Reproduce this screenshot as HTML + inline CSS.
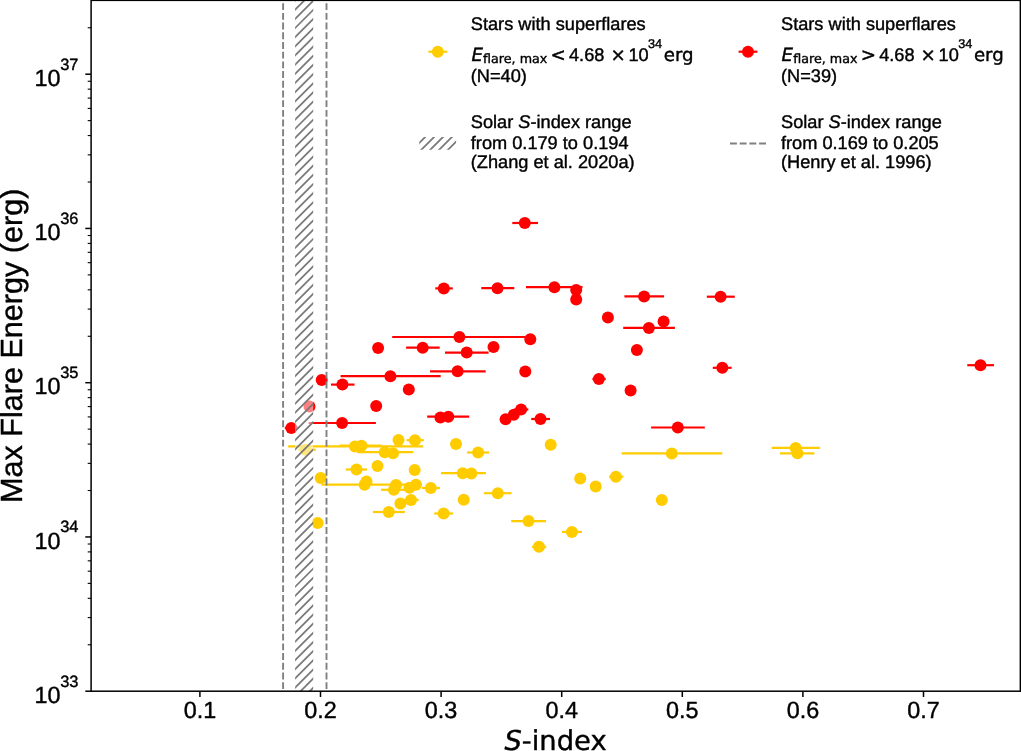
<!DOCTYPE html>
<html lang="en"><head><meta charset="utf-8"><title>Max Flare Energy vs S-index</title>
<style>html,body{margin:0;padding:0;background:#fff}svg{display:block}</style></head>
<body>
<svg width="1021" height="751" viewBox="0 0 1021 751" font-family="'Liberation Sans', sans-serif" text-rendering="geometricPrecision" fill="#000">
<style>text{stroke:#000;stroke-width:0.4px;stroke-linejoin:round}</style>
<rect width="1021" height="751" fill="#fff"/>
<defs><clipPath id="band"><rect x="295.1" y="0.7" width="18.1" height="690.5"/></clipPath><clipPath id="lp"><rect x="419.3" y="137" width="36.8" height="12.8"/></clipPath></defs>
<g stroke="#ffcc00" stroke-width="2.2" fill="#ffcc00">
<line x1="298.2" y1="449.7" x2="315.7" y2="449.7"/>
<line x1="288.1" y1="446.4" x2="423.2" y2="446.4"/>
<line x1="339.5" y1="445.7" x2="381.5" y2="445.7"/>
<line x1="357.1" y1="452.2" x2="413.2" y2="452.2"/>
<line x1="406.5" y1="440.2" x2="423.8" y2="440.2"/>
<line x1="467.1" y1="452.5" x2="489.0" y2="452.5"/>
<line x1="345.8" y1="469.5" x2="367.1" y2="469.5"/>
<line x1="321.4" y1="484.7" x2="408.0" y2="484.7"/>
<line x1="381.0" y1="489.8" x2="406.8" y2="489.8"/>
<line x1="373.0" y1="512.0" x2="404.8" y2="512.0"/>
<line x1="441.0" y1="473.2" x2="485.9" y2="473.2"/>
<line x1="422.0" y1="488.0" x2="439.9" y2="488.0"/>
<line x1="403.4" y1="499.9" x2="418.6" y2="499.9"/>
<line x1="434.2" y1="513.5" x2="453.1" y2="513.5"/>
<line x1="484.1" y1="493.2" x2="511.5" y2="493.2"/>
<line x1="621.6" y1="453.4" x2="722.3" y2="453.4"/>
<line x1="609.1" y1="476.7" x2="623.4" y2="476.7"/>
<line x1="511.2" y1="521.1" x2="546.0" y2="521.1"/>
<line x1="561.9" y1="531.9" x2="581.9" y2="531.9"/>
<line x1="532.0" y1="546.8" x2="546.2" y2="546.8"/>
<line x1="771.7" y1="447.9" x2="819.9" y2="447.9"/>
<line x1="780.0" y1="453.3" x2="814.4" y2="453.3"/>
<circle cx="305.7" cy="449.7" r="6.0" stroke="none"/>
<circle cx="355.0" cy="446.4" r="6.0" stroke="none"/>
<circle cx="361.5" cy="445.7" r="6.0" stroke="none"/>
<circle cx="398.5" cy="439.9" r="6.0" stroke="none"/>
<circle cx="384.7" cy="452.2" r="6.0" stroke="none"/>
<circle cx="393.0" cy="453.3" r="6.0" stroke="none"/>
<circle cx="415.0" cy="440.2" r="6.0" stroke="none"/>
<circle cx="456.0" cy="444.0" r="6.0" stroke="none"/>
<circle cx="478.1" cy="452.5" r="6.0" stroke="none"/>
<circle cx="356.5" cy="469.5" r="6.0" stroke="none"/>
<circle cx="377.5" cy="466.0" r="6.0" stroke="none"/>
<circle cx="320.7" cy="477.9" r="6.0" stroke="none"/>
<circle cx="366.5" cy="481.4" r="6.0" stroke="none"/>
<circle cx="364.6" cy="484.7" r="6.0" stroke="none"/>
<circle cx="396.0" cy="485.1" r="6.0" stroke="none"/>
<circle cx="393.9" cy="489.8" r="6.0" stroke="none"/>
<circle cx="409.5" cy="487.8" r="6.0" stroke="none"/>
<circle cx="400.4" cy="503.6" r="6.0" stroke="none"/>
<circle cx="416.0" cy="484.7" r="6.0" stroke="none"/>
<circle cx="388.8" cy="512.0" r="6.0" stroke="none"/>
<circle cx="317.7" cy="523.1" r="6.0" stroke="none"/>
<circle cx="414.7" cy="470.0" r="6.0" stroke="none"/>
<circle cx="462.7" cy="473.2" r="6.0" stroke="none"/>
<circle cx="471.3" cy="473.4" r="6.0" stroke="none"/>
<circle cx="430.8" cy="488.0" r="6.0" stroke="none"/>
<circle cx="411.0" cy="499.9" r="6.0" stroke="none"/>
<circle cx="443.6" cy="513.5" r="6.0" stroke="none"/>
<circle cx="463.7" cy="499.7" r="6.0" stroke="none"/>
<circle cx="497.8" cy="493.2" r="6.0" stroke="none"/>
<circle cx="550.7" cy="444.7" r="6.0" stroke="none"/>
<circle cx="671.8" cy="453.4" r="6.0" stroke="none"/>
<circle cx="580.2" cy="478.4" r="6.0" stroke="none"/>
<circle cx="595.7" cy="486.6" r="6.0" stroke="none"/>
<circle cx="615.9" cy="476.7" r="6.0" stroke="none"/>
<circle cx="661.8" cy="499.9" r="6.0" stroke="none"/>
<circle cx="528.5" cy="521.1" r="6.0" stroke="none"/>
<circle cx="571.9" cy="531.9" r="6.0" stroke="none"/>
<circle cx="539.0" cy="546.8" r="6.0" stroke="none"/>
<circle cx="795.7" cy="447.9" r="6.0" stroke="none"/>
<circle cx="797.5" cy="453.3" r="6.0" stroke="none"/>
</g>
<g stroke="#ff0000" stroke-width="2.2" fill="#ff0000">
<line x1="512.3" y1="223.0" x2="538.0" y2="223.0"/>
<line x1="435.3" y1="288.4" x2="452.8" y2="288.4"/>
<line x1="481.3" y1="288.2" x2="514.3" y2="288.2"/>
<line x1="526.0" y1="287.2" x2="582.5" y2="287.2"/>
<line x1="392.2" y1="337.0" x2="525.5" y2="337.0"/>
<line x1="406.1" y1="347.7" x2="439.7" y2="347.7"/>
<line x1="445.0" y1="352.6" x2="488.6" y2="352.6"/>
<line x1="430.0" y1="371.3" x2="485.7" y2="371.3"/>
<line x1="340.6" y1="376.2" x2="440.7" y2="376.2"/>
<line x1="331.0" y1="384.6" x2="354.5" y2="384.6"/>
<line x1="624.4" y1="296.4" x2="664.1" y2="296.4"/>
<line x1="706.8" y1="296.7" x2="734.8" y2="296.7"/>
<line x1="623.2" y1="327.9" x2="674.9" y2="327.9"/>
<line x1="712.8" y1="367.8" x2="731.6" y2="367.8"/>
<line x1="592.4" y1="379.0" x2="605.7" y2="379.0"/>
<line x1="308.6" y1="423.0" x2="375.9" y2="423.0"/>
<line x1="284.8" y1="427.9" x2="298.6" y2="427.9"/>
<line x1="427.2" y1="416.7" x2="469.2" y2="416.7"/>
<line x1="514.0" y1="409.5" x2="528.3" y2="409.5"/>
<line x1="531.2" y1="419.0" x2="550.0" y2="419.0"/>
<line x1="651.1" y1="427.5" x2="704.8" y2="427.5"/>
<line x1="967.3" y1="365.2" x2="994.0" y2="365.2"/>
<circle cx="524.8" cy="223.0" r="6.0" stroke="none"/>
<circle cx="443.8" cy="288.4" r="6.0" stroke="none"/>
<circle cx="497.5" cy="288.2" r="6.0" stroke="none"/>
<circle cx="554.4" cy="287.2" r="6.0" stroke="none"/>
<circle cx="576.2" cy="289.9" r="6.0" stroke="none"/>
<circle cx="576.2" cy="299.4" r="6.0" stroke="none"/>
<circle cx="459.4" cy="337.0" r="6.0" stroke="none"/>
<circle cx="530.3" cy="339.3" r="6.0" stroke="none"/>
<circle cx="378.1" cy="348.0" r="6.0" stroke="none"/>
<circle cx="422.7" cy="347.7" r="6.0" stroke="none"/>
<circle cx="466.7" cy="352.6" r="6.0" stroke="none"/>
<circle cx="493.5" cy="347.0" r="6.0" stroke="none"/>
<circle cx="457.6" cy="371.3" r="6.0" stroke="none"/>
<circle cx="525.3" cy="371.6" r="6.0" stroke="none"/>
<circle cx="390.4" cy="376.2" r="6.0" stroke="none"/>
<circle cx="321.7" cy="379.9" r="6.0" stroke="none"/>
<circle cx="342.4" cy="384.6" r="6.0" stroke="none"/>
<circle cx="408.8" cy="389.5" r="6.0" stroke="none"/>
<circle cx="644.1" cy="296.4" r="6.0" stroke="none"/>
<circle cx="720.6" cy="296.7" r="6.0" stroke="none"/>
<circle cx="607.9" cy="317.6" r="6.0" stroke="none"/>
<circle cx="663.6" cy="321.6" r="6.0" stroke="none"/>
<circle cx="648.9" cy="327.9" r="6.0" stroke="none"/>
<circle cx="636.9" cy="350.1" r="6.0" stroke="none"/>
<circle cx="722.3" cy="367.8" r="6.0" stroke="none"/>
<circle cx="598.9" cy="379.0" r="6.0" stroke="none"/>
<circle cx="630.6" cy="390.5" r="6.0" stroke="none"/>
<circle cx="309.5" cy="406.6" r="6.0" stroke="none"/>
<circle cx="376.2" cy="406.1" r="6.0" stroke="none"/>
<circle cx="342.1" cy="423.0" r="6.0" stroke="none"/>
<circle cx="291.3" cy="427.9" r="6.0" stroke="none"/>
<circle cx="440.4" cy="417.6" r="6.0" stroke="none"/>
<circle cx="448.3" cy="416.7" r="6.0" stroke="none"/>
<circle cx="505.6" cy="419.3" r="6.0" stroke="none"/>
<circle cx="513.8" cy="414.7" r="6.0" stroke="none"/>
<circle cx="521.1" cy="409.5" r="6.0" stroke="none"/>
<circle cx="540.5" cy="419.0" r="6.0" stroke="none"/>
<circle cx="677.8" cy="427.5" r="6.0" stroke="none"/>
<circle cx="980.5" cy="365.2" r="6.0" stroke="none"/>
</g>
<rect x="295.1" y="0.7" width="18.1" height="690.5" fill="#fff" fill-opacity="0.5"/>
<g clip-path="url(#band)" stroke="#787878" stroke-width="1.75">
<line x1="293" y1="-15.68" x2="316" y2="-38.68"/>
<line x1="293" y1="-6.52" x2="316" y2="-29.52"/>
<line x1="293" y1="2.64" x2="316" y2="-20.36"/>
<line x1="293" y1="11.80" x2="316" y2="-11.20"/>
<line x1="293" y1="20.96" x2="316" y2="-2.04"/>
<line x1="293" y1="30.12" x2="316" y2="7.12"/>
<line x1="293" y1="39.28" x2="316" y2="16.28"/>
<line x1="293" y1="48.44" x2="316" y2="25.44"/>
<line x1="293" y1="57.60" x2="316" y2="34.60"/>
<line x1="293" y1="66.76" x2="316" y2="43.76"/>
<line x1="293" y1="75.92" x2="316" y2="52.92"/>
<line x1="293" y1="85.08" x2="316" y2="62.08"/>
<line x1="293" y1="94.24" x2="316" y2="71.24"/>
<line x1="293" y1="103.40" x2="316" y2="80.40"/>
<line x1="293" y1="112.56" x2="316" y2="89.56"/>
<line x1="293" y1="121.72" x2="316" y2="98.72"/>
<line x1="293" y1="130.88" x2="316" y2="107.88"/>
<line x1="293" y1="140.04" x2="316" y2="117.04"/>
<line x1="293" y1="149.20" x2="316" y2="126.20"/>
<line x1="293" y1="158.36" x2="316" y2="135.36"/>
<line x1="293" y1="167.52" x2="316" y2="144.52"/>
<line x1="293" y1="176.68" x2="316" y2="153.68"/>
<line x1="293" y1="185.84" x2="316" y2="162.84"/>
<line x1="293" y1="195.00" x2="316" y2="172.00"/>
<line x1="293" y1="204.16" x2="316" y2="181.16"/>
<line x1="293" y1="213.32" x2="316" y2="190.32"/>
<line x1="293" y1="222.48" x2="316" y2="199.48"/>
<line x1="293" y1="231.64" x2="316" y2="208.64"/>
<line x1="293" y1="240.80" x2="316" y2="217.80"/>
<line x1="293" y1="249.96" x2="316" y2="226.96"/>
<line x1="293" y1="259.12" x2="316" y2="236.12"/>
<line x1="293" y1="268.28" x2="316" y2="245.28"/>
<line x1="293" y1="277.44" x2="316" y2="254.44"/>
<line x1="293" y1="286.60" x2="316" y2="263.60"/>
<line x1="293" y1="295.76" x2="316" y2="272.76"/>
<line x1="293" y1="304.92" x2="316" y2="281.92"/>
<line x1="293" y1="314.08" x2="316" y2="291.08"/>
<line x1="293" y1="323.24" x2="316" y2="300.24"/>
<line x1="293" y1="332.40" x2="316" y2="309.40"/>
<line x1="293" y1="341.56" x2="316" y2="318.56"/>
<line x1="293" y1="350.72" x2="316" y2="327.72"/>
<line x1="293" y1="359.88" x2="316" y2="336.88"/>
<line x1="293" y1="369.04" x2="316" y2="346.04"/>
<line x1="293" y1="378.20" x2="316" y2="355.20"/>
<line x1="293" y1="387.36" x2="316" y2="364.36"/>
<line x1="293" y1="396.52" x2="316" y2="373.52"/>
<line x1="293" y1="405.68" x2="316" y2="382.68"/>
<line x1="293" y1="414.84" x2="316" y2="391.84"/>
<line x1="293" y1="424.00" x2="316" y2="401.00"/>
<line x1="293" y1="433.16" x2="316" y2="410.16"/>
<line x1="293" y1="442.32" x2="316" y2="419.32"/>
<line x1="293" y1="451.48" x2="316" y2="428.48"/>
<line x1="293" y1="460.64" x2="316" y2="437.64"/>
<line x1="293" y1="469.80" x2="316" y2="446.80"/>
<line x1="293" y1="478.96" x2="316" y2="455.96"/>
<line x1="293" y1="488.12" x2="316" y2="465.12"/>
<line x1="293" y1="497.28" x2="316" y2="474.28"/>
<line x1="293" y1="506.44" x2="316" y2="483.44"/>
<line x1="293" y1="515.60" x2="316" y2="492.60"/>
<line x1="293" y1="524.76" x2="316" y2="501.76"/>
<line x1="293" y1="533.92" x2="316" y2="510.92"/>
<line x1="293" y1="543.08" x2="316" y2="520.08"/>
<line x1="293" y1="552.24" x2="316" y2="529.24"/>
<line x1="293" y1="561.40" x2="316" y2="538.40"/>
<line x1="293" y1="570.56" x2="316" y2="547.56"/>
<line x1="293" y1="579.72" x2="316" y2="556.72"/>
<line x1="293" y1="588.88" x2="316" y2="565.88"/>
<line x1="293" y1="598.04" x2="316" y2="575.04"/>
<line x1="293" y1="607.20" x2="316" y2="584.20"/>
<line x1="293" y1="616.36" x2="316" y2="593.36"/>
<line x1="293" y1="625.52" x2="316" y2="602.52"/>
<line x1="293" y1="634.68" x2="316" y2="611.68"/>
<line x1="293" y1="643.84" x2="316" y2="620.84"/>
<line x1="293" y1="653.00" x2="316" y2="630.00"/>
<line x1="293" y1="662.16" x2="316" y2="639.16"/>
<line x1="293" y1="671.32" x2="316" y2="648.32"/>
<line x1="293" y1="680.48" x2="316" y2="657.48"/>
<line x1="293" y1="689.64" x2="316" y2="666.64"/>
<line x1="293" y1="698.80" x2="316" y2="675.80"/>
<line x1="293" y1="707.96" x2="316" y2="684.96"/>
</g>
<line x1="283.1" y1="689.1" x2="283.1" y2="0" stroke="#808080" stroke-width="1.9" stroke-dasharray="6.9 2.8"/>
<line x1="326.5" y1="689.1" x2="326.5" y2="0" stroke="#808080" stroke-width="1.9" stroke-dasharray="6.9 2.8"/>
<rect x="91.1" y="0.35" width="929.25" height="690.85" fill="none" stroke="#000" stroke-width="1.5"/>
<g stroke="#000" stroke-width="1.5">
<line x1="85.3" y1="691.20" x2="91.1" y2="691.20"/>
<line x1="85.3" y1="536.95" x2="91.1" y2="536.95"/>
<line x1="85.3" y1="382.70" x2="91.1" y2="382.70"/>
<line x1="85.3" y1="228.45" x2="91.1" y2="228.45"/>
<line x1="85.3" y1="74.20" x2="91.1" y2="74.20"/>
</g>
<g stroke="#000" stroke-width="1.1">
<line x1="87.69999999999999" y1="644.77" x2="91.1" y2="644.77"/>
<line x1="87.69999999999999" y1="617.60" x2="91.1" y2="617.60"/>
<line x1="87.69999999999999" y1="598.33" x2="91.1" y2="598.33"/>
<line x1="87.69999999999999" y1="583.38" x2="91.1" y2="583.38"/>
<line x1="87.69999999999999" y1="571.17" x2="91.1" y2="571.17"/>
<line x1="87.69999999999999" y1="560.84" x2="91.1" y2="560.84"/>
<line x1="87.69999999999999" y1="551.90" x2="91.1" y2="551.90"/>
<line x1="87.69999999999999" y1="544.01" x2="91.1" y2="544.01"/>
<line x1="87.69999999999999" y1="490.52" x2="91.1" y2="490.52"/>
<line x1="87.69999999999999" y1="463.35" x2="91.1" y2="463.35"/>
<line x1="87.69999999999999" y1="444.08" x2="91.1" y2="444.08"/>
<line x1="87.69999999999999" y1="429.13" x2="91.1" y2="429.13"/>
<line x1="87.69999999999999" y1="416.92" x2="91.1" y2="416.92"/>
<line x1="87.69999999999999" y1="406.59" x2="91.1" y2="406.59"/>
<line x1="87.69999999999999" y1="397.65" x2="91.1" y2="397.65"/>
<line x1="87.69999999999999" y1="389.76" x2="91.1" y2="389.76"/>
<line x1="87.69999999999999" y1="336.27" x2="91.1" y2="336.27"/>
<line x1="87.69999999999999" y1="309.10" x2="91.1" y2="309.10"/>
<line x1="87.69999999999999" y1="289.83" x2="91.1" y2="289.83"/>
<line x1="87.69999999999999" y1="274.88" x2="91.1" y2="274.88"/>
<line x1="87.69999999999999" y1="262.67" x2="91.1" y2="262.67"/>
<line x1="87.69999999999999" y1="252.34" x2="91.1" y2="252.34"/>
<line x1="87.69999999999999" y1="243.40" x2="91.1" y2="243.40"/>
<line x1="87.69999999999999" y1="235.51" x2="91.1" y2="235.51"/>
<line x1="87.69999999999999" y1="182.02" x2="91.1" y2="182.02"/>
<line x1="87.69999999999999" y1="154.85" x2="91.1" y2="154.85"/>
<line x1="87.69999999999999" y1="135.58" x2="91.1" y2="135.58"/>
<line x1="87.69999999999999" y1="120.63" x2="91.1" y2="120.63"/>
<line x1="87.69999999999999" y1="108.42" x2="91.1" y2="108.42"/>
<line x1="87.69999999999999" y1="98.09" x2="91.1" y2="98.09"/>
<line x1="87.69999999999999" y1="89.15" x2="91.1" y2="89.15"/>
<line x1="87.69999999999999" y1="81.26" x2="91.1" y2="81.26"/>
<line x1="87.69999999999999" y1="27.77" x2="91.1" y2="27.77"/>
</g>
<g stroke="#000" stroke-width="1.5">
<line x1="199.90" y1="691.2" x2="199.90" y2="697.0"/>
<line x1="320.50" y1="691.2" x2="320.50" y2="697.0"/>
<line x1="441.10" y1="691.2" x2="441.10" y2="697.0"/>
<line x1="561.70" y1="691.2" x2="561.70" y2="697.0"/>
<line x1="682.30" y1="691.2" x2="682.30" y2="697.0"/>
<line x1="802.90" y1="691.2" x2="802.90" y2="697.0"/>
<line x1="923.50" y1="691.2" x2="923.50" y2="697.0"/>
</g>
<g font-size="23.4">
<text x="199.90" y="718.3" text-anchor="middle">0.1</text>
<text x="320.50" y="718.3" text-anchor="middle">0.2</text>
<text x="441.10" y="718.3" text-anchor="middle">0.3</text>
<text x="561.70" y="718.3" text-anchor="middle">0.4</text>
<text x="682.30" y="718.3" text-anchor="middle">0.5</text>
<text x="802.90" y="718.3" text-anchor="middle">0.6</text>
<text x="923.50" y="718.3" text-anchor="middle">0.7</text>
<text x="34.4" y="702.90">10<tspan font-size="16.4" dy="-16.2" dx="-0.2">33</tspan></text>
<text x="34.4" y="548.65">10<tspan font-size="16.4" dy="-16.2" dx="-0.2">34</tspan></text>
<text x="34.4" y="394.40">10<tspan font-size="16.4" dy="-16.2" dx="-0.2">35</tspan></text>
<text x="34.4" y="240.15">10<tspan font-size="16.4" dy="-16.2" dx="-0.2">36</tspan></text>
<text x="34.4" y="85.90">10<tspan font-size="16.4" dy="-16.2" dx="-0.2">37</tspan></text>
</g>
<text transform="translate(22.3,345.8) rotate(-90)" text-anchor="middle" font-size="30.6">Max Flare Energy (erg)</text>
<text x="555.5" y="750" text-anchor="middle" font-size="27.4" font-family="'DejaVu Sans', sans-serif"><tspan font-style="italic">S</tspan>-index</text>
<g transform="translate(0,0)" font-size="18.2">
<line x1="428.4" y1="51.7" x2="447.2" y2="51.7" stroke="#ffcc00" stroke-width="2.2"/>
<circle cx="437.8" cy="51.7" r="6" fill="#ffcc00"/>
<text x="470.8" y="29.9">Stars with superflares</text>
<text x="471.40" y="60.6" font-size="18.2" font-family="'DejaVu Sans', sans-serif" font-style="italic">E</text>
<text x="483.10" y="63.4" font-size="12.7" font-family="'DejaVu Sans', sans-serif">flare, max</text>
<text x="550.60" y="60.6" font-size="18.2" font-family="'DejaVu Sans', sans-serif">&lt;</text>
<text x="569.00" y="60.6" font-size="18.2">4.68</text>
<text x="610.40" y="60.6" font-size="18.2" font-family="'DejaVu Sans', sans-serif">×</text>
<text x="628.40" y="60.6" font-size="18.2">10</text>
<text x="648.00" y="47.8" font-size="12.7">34</text>
<text x="663.70" y="60.6" font-size="18.2" font-family="'DejaVu Sans', sans-serif">erg</text>
<text x="470.8" y="81.6">(N=40)</text>
</g>
<g transform="translate(310.2,0)" font-size="18.2">
<line x1="428.4" y1="51.7" x2="447.2" y2="51.7" stroke="#ff0000" stroke-width="2.2"/>
<circle cx="437.8" cy="51.7" r="6" fill="#ff0000"/>
<text x="470.8" y="29.9">Stars with superflares</text>
<text x="471.40" y="60.6" font-size="18.2" font-family="'DejaVu Sans', sans-serif" font-style="italic">E</text>
<text x="483.10" y="63.4" font-size="12.7" font-family="'DejaVu Sans', sans-serif">flare, max</text>
<text x="550.60" y="60.6" font-size="18.2" font-family="'DejaVu Sans', sans-serif">&gt;</text>
<text x="569.00" y="60.6" font-size="18.2">4.68</text>
<text x="610.40" y="60.6" font-size="18.2" font-family="'DejaVu Sans', sans-serif">×</text>
<text x="628.40" y="60.6" font-size="18.2">10</text>
<text x="648.00" y="47.8" font-size="12.7">34</text>
<text x="663.70" y="60.6" font-size="18.2" font-family="'DejaVu Sans', sans-serif">erg</text>
<text x="470.8" y="81.6">(N=39)</text>
</g>
<g clip-path="url(#lp)" stroke="#787878" stroke-width="1.75">
<line x1="401.50" y1="151.8" x2="418.50" y2="134.8"/>
<line x1="410.40" y1="151.8" x2="427.40" y2="134.8"/>
<line x1="419.30" y1="151.8" x2="436.30" y2="134.8"/>
<line x1="428.20" y1="151.8" x2="445.20" y2="134.8"/>
<line x1="437.10" y1="151.8" x2="454.10" y2="134.8"/>
<line x1="446.00" y1="151.8" x2="463.00" y2="134.8"/>
<line x1="454.90" y1="151.8" x2="471.90" y2="134.8"/>
<line x1="463.80" y1="151.8" x2="480.80" y2="134.8"/>
<line x1="472.70" y1="151.8" x2="489.70" y2="134.8"/>
</g>
<g font-size="18.2">
<text x="470.8" y="128.2">Solar <tspan font-style="italic">S</tspan>-index range</text>
<text x="470.8" y="148.5">from 0.179 to 0.194</text>
<text x="470.8" y="168.3">(Zhang et al. 2020a)</text>
<line x1="730.0" y1="143.45" x2="766.3" y2="143.45" stroke="#808080" stroke-width="1.9" stroke-dasharray="6.9 2.8"/>
<text x="781" y="128.2">Solar <tspan font-style="italic">S</tspan>-index range</text>
<text x="781" y="148.5">from 0.169 to 0.205</text>
<text x="781" y="168.3">(Henry et al. 1996)</text>
</g>
</svg>
</body></html>
